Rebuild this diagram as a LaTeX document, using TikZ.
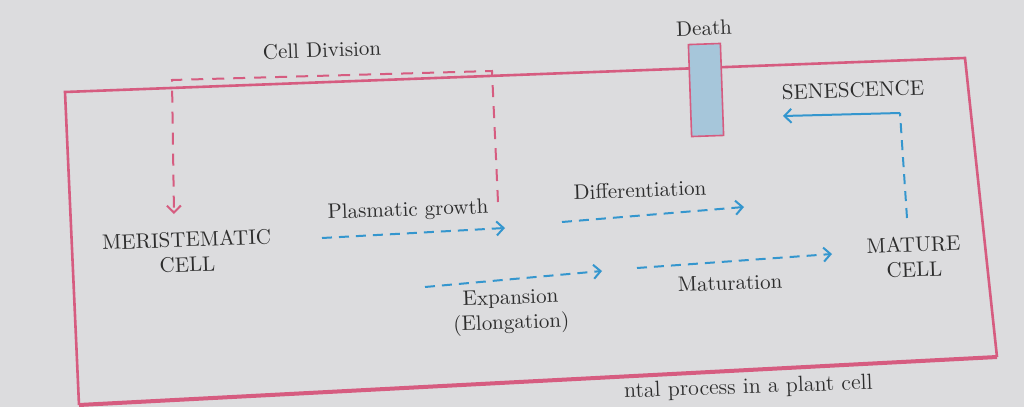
\documentclass[tikz,border=0pt]{standalone}
\usetikzlibrary{arrows.meta}
\definecolor{pagegray}{RGB}{220,220,222}
\definecolor{rosepink}{RGB}{214,92,128}
\definecolor{arrowblue}{RGB}{52,150,206}
\definecolor{deathblue}{RGB}{166,198,218}
\definecolor{inkgray}{RGB}{45,45,45}
\tikzset{
  lbl/.style={text=inkgray, font=\fontsize{10.5}{12.5}\selectfont, rotate=2, inner sep=1pt, align=center},
  boxline/.style={rosepink, line width=1.3pt, line join=miter},
  pinkdash/.style={rosepink, line width=1pt, dash pattern=on 6pt off 4.5pt},
  bluedash/.style={arrowblue, line width=1pt, dash pattern=on 5pt off 3.5pt},
  tip/.style={-{Straight Barb[length=3.5pt,width=7pt]}},
}
\begin{document}
\begin{tikzpicture}[x=0.5pt,y=-0.5pt]
  \useasboundingbox (0,0) rectangle (1024,407);
  \clip (0,0) rectangle (1024,407);
  \fill[pagegray] (0,0) rectangle (1024,407);
  % outer frame
  \coordinate (tl) at (65,92);
  \coordinate (tr) at (965,58);
  \coordinate (br) at (997,357);
  \coordinate (bl) at (79,405);
  \draw[boxline] (bl) -- (tl) -- (tr) -- (br);
  \draw[rosepink, line width=2pt] (br) -- (bl);
  % death bar
  \node[draw=rosepink, line width=0.8pt, fill=deathblue, minimum width=16pt,
        minimum height=46pt, rotate=2, inner sep=0pt] (deathbar) at (706,90) {};
  % texts
  \node[lbl] (celldiv) at (322,50) {Cell Division};
  \node[lbl] (death) at (704,28) {Death};
  \node[lbl] (senes) at (853,90) {SENESCENCE};
  \node[lbl] (merist) at (187,252) {MERISTEMATIC\\CELL};
  \node[lbl] (plasm) at (408,211) {Plasmatic growth};
  \node[lbl] (diff) at (640,190) {Differentiation};
  \node[lbl] (expan) at (511,312) {Expansion\\(Elongation)};
  \node[lbl] (matur) at (730,283) {Maturation};
  \node[lbl] (mature) at (914,257) {MATURE\\CELL};
  \node[lbl, font=\fontsize{11}{13}\selectfont, anchor=base west] (caption) at (622,398)
    {ntal process in a plant cell};
  % cell division loop
  \coordinate (cd-a) at (498,202);
  \coordinate (cd-b) at (492,71);
  \coordinate (cd-c) at (172,80);
  \coordinate (cd-d) at (174,214);
  \draw[pinkdash, tip] (cd-a) -- (cd-b) -- (cd-c) -- (cd-d);
  % growth arrows
  \coordinate (pg-s) at (322,238);
  \coordinate (pg-e) at (505,228);
  \draw[bluedash, tip] (pg-s) -- (pg-e);
  \coordinate (ex-s) at (425,287);
  \coordinate (ex-e) at (602,271);
  \draw[bluedash, tip] (ex-s) -- (ex-e);
  \coordinate (df-s) at (562,222);
  \coordinate (df-e) at (744,207);
  \draw[bluedash, tip] (df-s) -- (df-e);
  \coordinate (mt-s) at (637,268);
  \coordinate (mt-e) at (832,254);
  \draw[bluedash, tip] (mt-s) -- (mt-e);
  % senescence
  \coordinate (sn-a) at (907,218);
  \coordinate (sn-b) at (900,113);
  \coordinate (sn-c) at (783,116);
  \draw[bluedash] (sn-a) -- (sn-b);
  \draw[arrowblue, line width=1pt, tip] (sn-b) -- (sn-c);
\end{tikzpicture}
\end{document}
